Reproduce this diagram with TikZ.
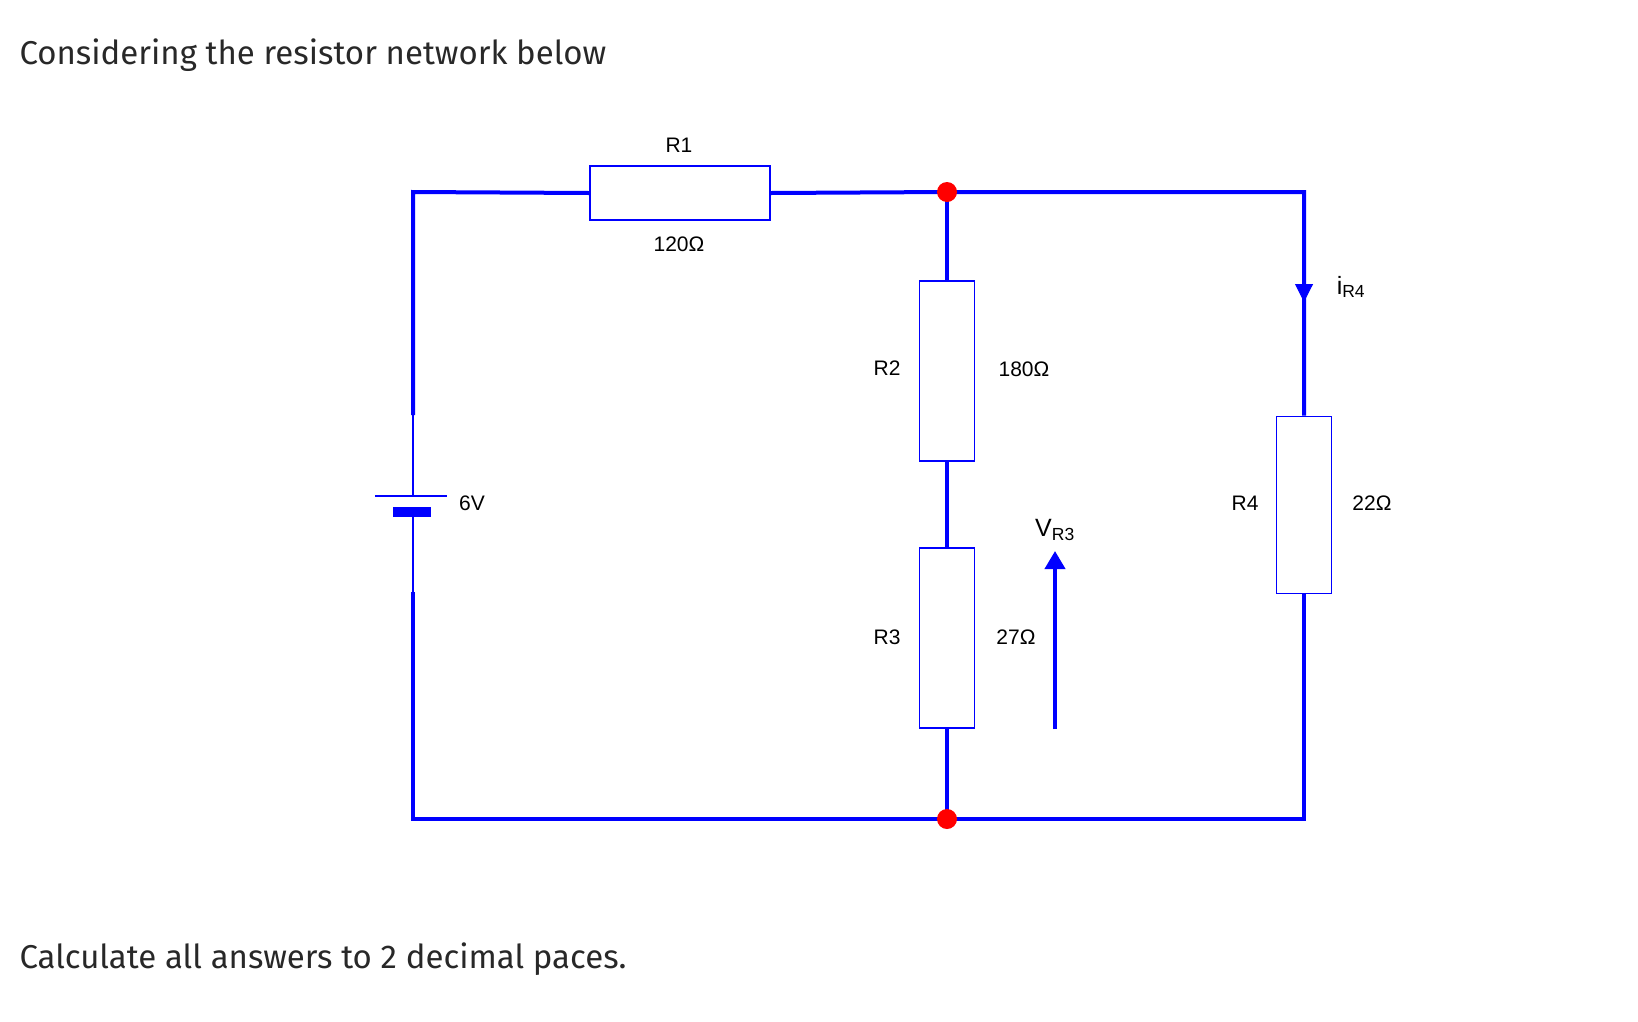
\documentclass[tikz,border=0pt]{standalone}
\usepackage{fontspec}
\setmainfont{Liberation Sans}
\newfontfamily\titlefont{Fira Sans}
\usetikzlibrary{arrows.meta}
\definecolor{wb}{RGB}{0,0,255}
\begin{document}
\begin{tikzpicture}[x=1pt,y=-1pt,
  wire/.style={wb,line width=4pt},
  res/.style={draw=wb,fill=white,line width=1.6pt,minimum width=#1,inner sep=0pt},
  lbl/.style={font=\fontsize{21}{25}\selectfont,text=black},
  ttl/.style={font=\titlefont\fontsize{33}{38}\selectfont,anchor=west,text={rgb,255:red,40;green,40;blue,40}},
  dot/.style={circle,fill=red,minimum size=20pt,inner sep=0pt}]
\useasboundingbox (0,0) rectangle (1638,1021);
\node[ttl] (t1) at (16,55) {Considering the resistor network below};
\node[ttl] (t2) at (16,959) {Calculate all answers to 2 decimal paces.};
\begin{scope}[xshift=-3pt]
\coordinate (tl) at (416,192); \coordinate (bl) at (416,819);
\coordinate (tr) at (1307,192); \coordinate (br) at (1307,819);
\coordinate (jt) at (950,192); \coordinate (jb) at (950,819);
\coordinate (bt1) at (416,415); \coordinate (bt2) at (416,592);
\coordinate (pl) at (416,496); \coordinate (ps) at (416,512);
\node[res=180pt,minimum height=54pt] (R1) at (683,193) {};
\node[res=55pt,minimum height=180pt] (R2) at (950,371) {};
\node[res=55pt,minimum height=180pt] (R3) at (950,638) {};
\node[res=55pt,minimum height=177pt] (R4) at (1307,505) {};
\draw[wire] (bt1) -- (tl) -- (R1.west);
\draw[wire] (R1.east) -- (jt) -- (tr) -- (R4.north);
\draw[wire] (jt) -- (R2.north);
\draw[wire] (R2.south) -- (R3.north);
\draw[wire] (R3.south) -- (jb);
\draw[wire] (R4.south) -- (br) -- (bl) -- (bt2);
\draw[wb,line width=1.6pt] (bt1) -- (pl) (ps) -- (bt2);
\draw[wb,line width=1.6pt] (378,496) -- (450,496);
\draw[wb,line width=10pt] (396,512) -- (434,512);
\coordinate (a1) at (1307,280); \coordinate (a2) at (1307,302);
\draw[wb,line width=1pt,-{Triangle[width=18pt,length=18pt]}] (a1) -- (a2);
\coordinate (v1) at (1058,729); \coordinate (v2) at (1058,551);
\draw[wb,line width=4pt,-{Triangle[width=20pt,length=18pt]}] (v1) -- (v2);
\node[dot] (d1) at (jt) {};
\node[dot] (d2) at (jb) {};
\node[lbl] (l1) at (682,145) {R1};
\node[lbl] (l2) at (682,244) {120Ω};
\node[lbl] (l3) at (890,368) {R2};
\node[lbl] (l4) at (1027,369) {180Ω};
\node[lbl] (l5) at (890,637) {R3};
\node[lbl] (l6) at (1019,637) {27Ω};
\node[lbl] (l7) at (1248,503) {R4};
\node[lbl] (l8) at (1375,503) {22Ω};
\node[lbl] (l9) at (475,503) {6V};
\node[lbl,font=\fontsize{25}{29}\selectfont] (l10) at (1058,530) {V\textsubscript{R3}};
\node[lbl,font=\fontsize{25}{29}\selectfont] (l11) at (1354,287) {i\textsubscript{R4}};
\end{scope}
\end{tikzpicture}
\end{document}
